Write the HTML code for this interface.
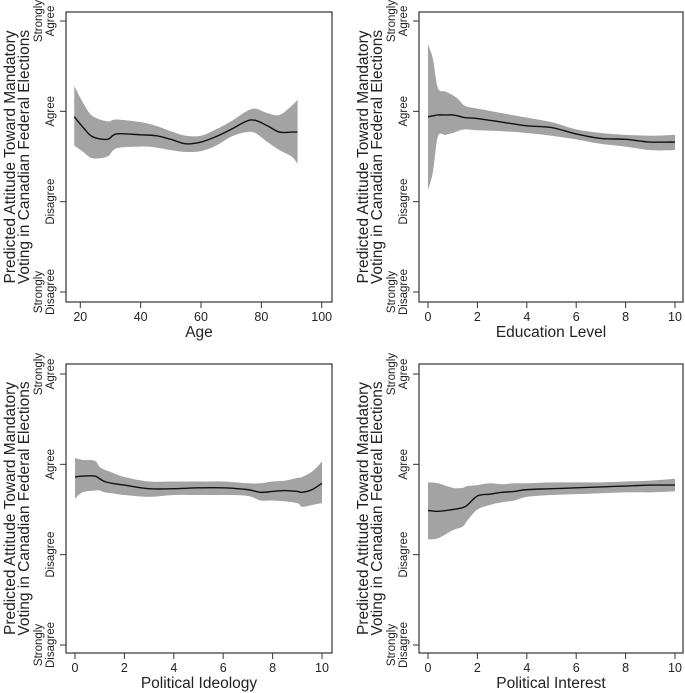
<!DOCTYPE html>
<html><head><meta charset="utf-8"><style>
html,body{margin:0;padding:0;background:#fff;}
svg{display:block;font-family:"Liberation Sans",Arial,sans-serif;}
</style></head><body>
<svg id="chart" width="685" height="693" viewBox="0 0 685 693" xmlns="http://www.w3.org/2000/svg"></svg>
<script>
// Panel 1: Age
const ageX = [18,21,24,29,32,40,45,50,55,60,65,70,75,78,82,86,90,92];
const ageFit = [2.94,2.82,2.72,2.69,2.75,2.74,2.73,2.69,2.64,2.66,2.72,2.80,2.89,2.90,2.84,2.77,2.77,2.77];
const ageHi = [3.28,3.09,2.95,2.89,2.91,2.88,2.84,2.78,2.73,2.73,2.80,2.89,3.00,3.03,2.98,2.96,3.06,3.13];
const ageLo = [2.62,2.55,2.48,2.50,2.59,2.61,2.60,2.57,2.55,2.56,2.62,2.72,2.77,2.76,2.66,2.57,2.50,2.42];
const ageTicks = [20,40,60,80,100];
// Panel 2: Education
const eduX = [0,0.2,0.4,0.7,1,1.2,1.5,2,3,4,5,6,7,8,9,10];
const eduFit = [2.94,2.95,2.96,2.96,2.96,2.95,2.93,2.92,2.88,2.84,2.82,2.75,2.70,2.69,2.66,2.66];
const eduHi = [3.74,3.58,3.26,3.22,3.18,3.14,3.06,3.03,2.98,2.93,2.88,2.80,2.76,2.74,2.73,2.74];
const eduLo = [2.13,2.33,2.72,2.74,2.76,2.78,2.80,2.79,2.78,2.76,2.73,2.69,2.64,2.61,2.57,2.57];
// Panel 3: Ideology
const ideoX = [0,0.3,0.8,1,1.2,1.5,2,3,4,5,6,7,7.5,8,8.5,9,9.2,9.6,10];
const ideoFit = [2.86,2.87,2.87,2.84,2.81,2.79,2.77,2.73,2.73,2.74,2.74,2.72,2.69,2.70,2.71,2.70,2.69,2.72,2.79];
const ideoHi = [3.07,3.05,3.04,2.97,2.94,2.91,2.86,2.81,2.81,2.81,2.81,2.79,2.79,2.81,2.82,2.85,2.86,2.92,3.03];
const ideoLo = [2.62,2.69,2.71,2.71,2.69,2.68,2.66,2.64,2.66,2.66,2.66,2.65,2.60,2.60,2.59,2.57,2.53,2.55,2.57];
// Panel 4: Interest
const intX = [0,0.4,1,1.4,1.6,2,2.5,3,3.5,4,5,6,7,8,9,10];
const intFit = [2.49,2.48,2.50,2.52,2.55,2.65,2.67,2.69,2.70,2.72,2.73,2.74,2.75,2.76,2.77,2.77];
const intHi = [2.80,2.79,2.74,2.74,2.76,2.77,2.79,2.78,2.79,2.79,2.80,2.80,2.80,2.81,2.82,2.84];
const intLo = [2.17,2.18,2.27,2.31,2.38,2.50,2.55,2.58,2.60,2.64,2.66,2.67,2.68,2.69,2.69,2.70];
const tenTicks = [0,2,4,6,8,10];
const yLevels = [1,2,3,4];
const yLabels = [["Strongly","Disagree"],["Disagree"],["Agree"],["Strongly","Agree"]];

const NS="http://www.w3.org/2000/svg";
const svg=document.getElementById('chart');
function mk(tag,attrs,parent){const e=document.createElementNS(NS,tag);for(const k in attrs)e.setAttribute(k,attrs[k]);(parent||svg).appendChild(e);return e;}
function smooth(pts,move){
  let d=(move?'M':'L')+pts[0][0]+','+pts[0][1];
  for(let i=0;i<pts.length-1;i++){
    const p0=pts[Math.max(i-1,0)],p1=pts[i],p2=pts[i+1],p3=pts[Math.min(i+2,pts.length-1)];
    const c1x=p1[0]+(p2[0]-p0[0])/6,c1y=p1[1]+(p2[1]-p0[1])/6;
    const c2x=p2[0]-(p3[0]-p1[0])/6,c2y=p2[1]-(p3[1]-p1[1])/6;
    d+=`C${c1x},${c1y} ${c2x},${c2y} ${p2[0]},${p2[1]}`;
  }
  return d;
}

function panel(o){
  const g=mk('g',{});
  
  
  const sx=v=>o.px0+(v-o.t0)*(o.px1-o.px0)/(o.t1-o.t0);
  const sy=v=>o.py4+(4-v)*(o.py1-o.py4)/3;
  const up=o.xs.map((x,i)=>[sx(x),sy(o.hi[i])]);
  const dn=o.xs.map((x,i)=>[sx(x),sy(o.lo[i])]).reverse();
  const band=mk('path',{d:smooth(up,true)+smooth(dn,false)+'Z',fill:'#a3a3a3',stroke:'none'},g);
  
  
  const line=mk('path',{d:smooth(o.xs.map((x,i)=>[sx(x),sy(o.fit[i])]),true),fill:'none',stroke:'#111',"stroke-width":1.4},g);
  
  
  const fr=mk('rect',{x:o.L,y:o.T,width:o.R-o.L,height:o.B-o.T,fill:'none',stroke:'#333',"stroke-width":1.2},g);
  
  
  yLevels.forEach((lv,i)=>{
    const y=sy(lv);
    mk('line',{x1:o.L-6,x2:o.L,y1:y,y2:y,stroke:'#333'},g);
    const lines=yLabels[i];
    lines.forEach((s,j)=>{
      const x=o.L-12-(lines.length-1-j)*12;
      const t=mk('text',{x:x,y:y,transform:`rotate(-90 ${x} ${y})`,"text-anchor":"middle","font-size":11.5,fill:'#222'},g);
      t.textContent=s;
      
      
    });
  });
  o.ticks.forEach(v=>{
    const x=sx(v);
    mk('line',{x1:x,x2:x,y1:o.B,y2:o.B+6,stroke:'#333'},g);
    const t=mk('text',{x:x,y:o.B+19,"text-anchor":"middle","font-size":12.5,fill:'#222'},g);
    t.textContent=v;
    
    
  });
  const xt=mk('text',{x:(o.L+o.R)/2,y:o.B+35,"text-anchor":"middle","font-size":15.5,fill:'#222'},g);
  xt.textContent=o.xtitle;
  
  
  const cy=(o.T+o.B)/2;
  [["Predicted Attitude Toward Mandatory",o.L-51],["Voting in Canadian Federal Elections",o.L-37]].forEach(([s,x])=>{
    const t=mk('text',{x:x,y:cy,transform:`rotate(-90 ${x} ${cy})`,"text-anchor":"middle","font-size":15.5,fill:'#222'},g);
    t.textContent=s;
    
    
  });
}
const rowTop={T:12,B:302,py4:21,py1:292}, rowBot={T:364,B:653,py4:374,py1:645};
const colL={L:66,R:332}, colR={L:419,R:683};
panel(Object.assign({name:'age-panel',xs:ageX,fit:ageFit,hi:ageHi,lo:ageLo,ticks:ageTicks,t0:20,t1:100,px0:80.3,px1:321.7,xtitle:'Age'},rowTop,colL));
panel(Object.assign({name:'education-panel',xs:eduX,fit:eduFit,hi:eduHi,lo:eduLo,ticks:tenTicks,t0:0,t1:10,px0:428,px1:675,xtitle:'Education Level'},rowTop,colR));
panel(Object.assign({name:'ideology-panel',xs:ideoX,fit:ideoFit,hi:ideoHi,lo:ideoLo,ticks:tenTicks,t0:0,t1:10,px0:75,px1:322,xtitle:'Political Ideology'},rowBot,colL));
panel(Object.assign({name:'interest-panel',xs:intX,fit:intFit,hi:intHi,lo:intLo,ticks:tenTicks,t0:0,t1:10,px0:428,px1:675,xtitle:'Political Interest'},rowBot,colR));
</script>
</body></html>
